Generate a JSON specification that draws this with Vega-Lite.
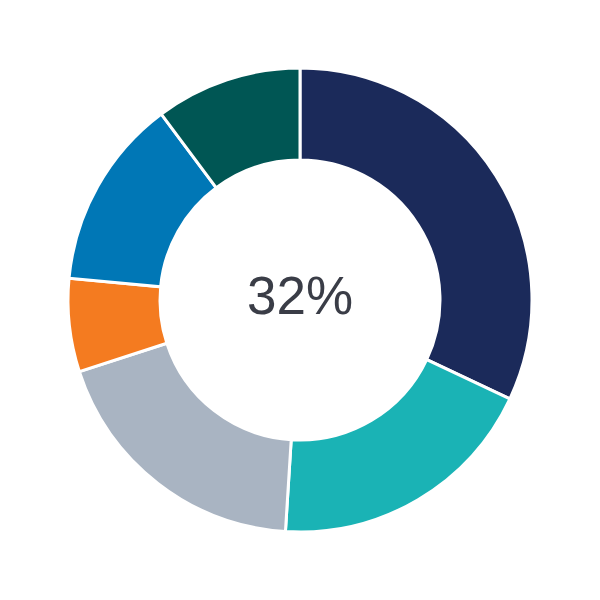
{
  "$schema": "https://vega.github.io/schema/vega-lite/v6.json",
  "width": 600,
  "height": 600,
  "autosize": {"type": "fit", "contains": "padding"},
  "padding": 0,
  "background": "white",
  "config": {"view": {"stroke": null}},
  "layer": [
    {
      "data": {
        "values": [
          {"segment": "A", "order": 1, "value": 32},
          {"segment": "B", "order": 2, "value": 19},
          {"segment": "C", "order": 3, "value": 19},
          {"segment": "D", "order": 4, "value": 6.5},
          {"segment": "E", "order": 5, "value": 13.3},
          {"segment": "F", "order": 6, "value": 10.2}
        ]
      },
      "mark": {"type": "arc", "innerRadius": 140, "outerRadius": 232, "stroke": "white", "strokeWidth": 3},
      "encoding": {
        "theta": {"field": "value", "type": "quantitative", "stack": true},
        "order": {"field": "order", "type": "quantitative"},
        "color": {
          "field": "segment",
          "type": "nominal",
          "scale": {
            "domain": ["A", "B", "C", "D", "E", "F"],
            "range": ["#1b2a5a", "#1ab3b5", "#a9b4c2", "#f47b20", "#0077b6", "#005654"]
          },
          "legend": null
        }
      }
    },
    {
      "data": {"values": [{"label": "32%"}]},
      "mark": {"type": "text", "fontSize": 53, "font": "Liberation Sans", "color": "#3a3d47", "align": "center", "baseline": "middle", "dy": -2},
      "encoding": {"text": {"field": "label", "type": "nominal"}}
    }
  ]
}
